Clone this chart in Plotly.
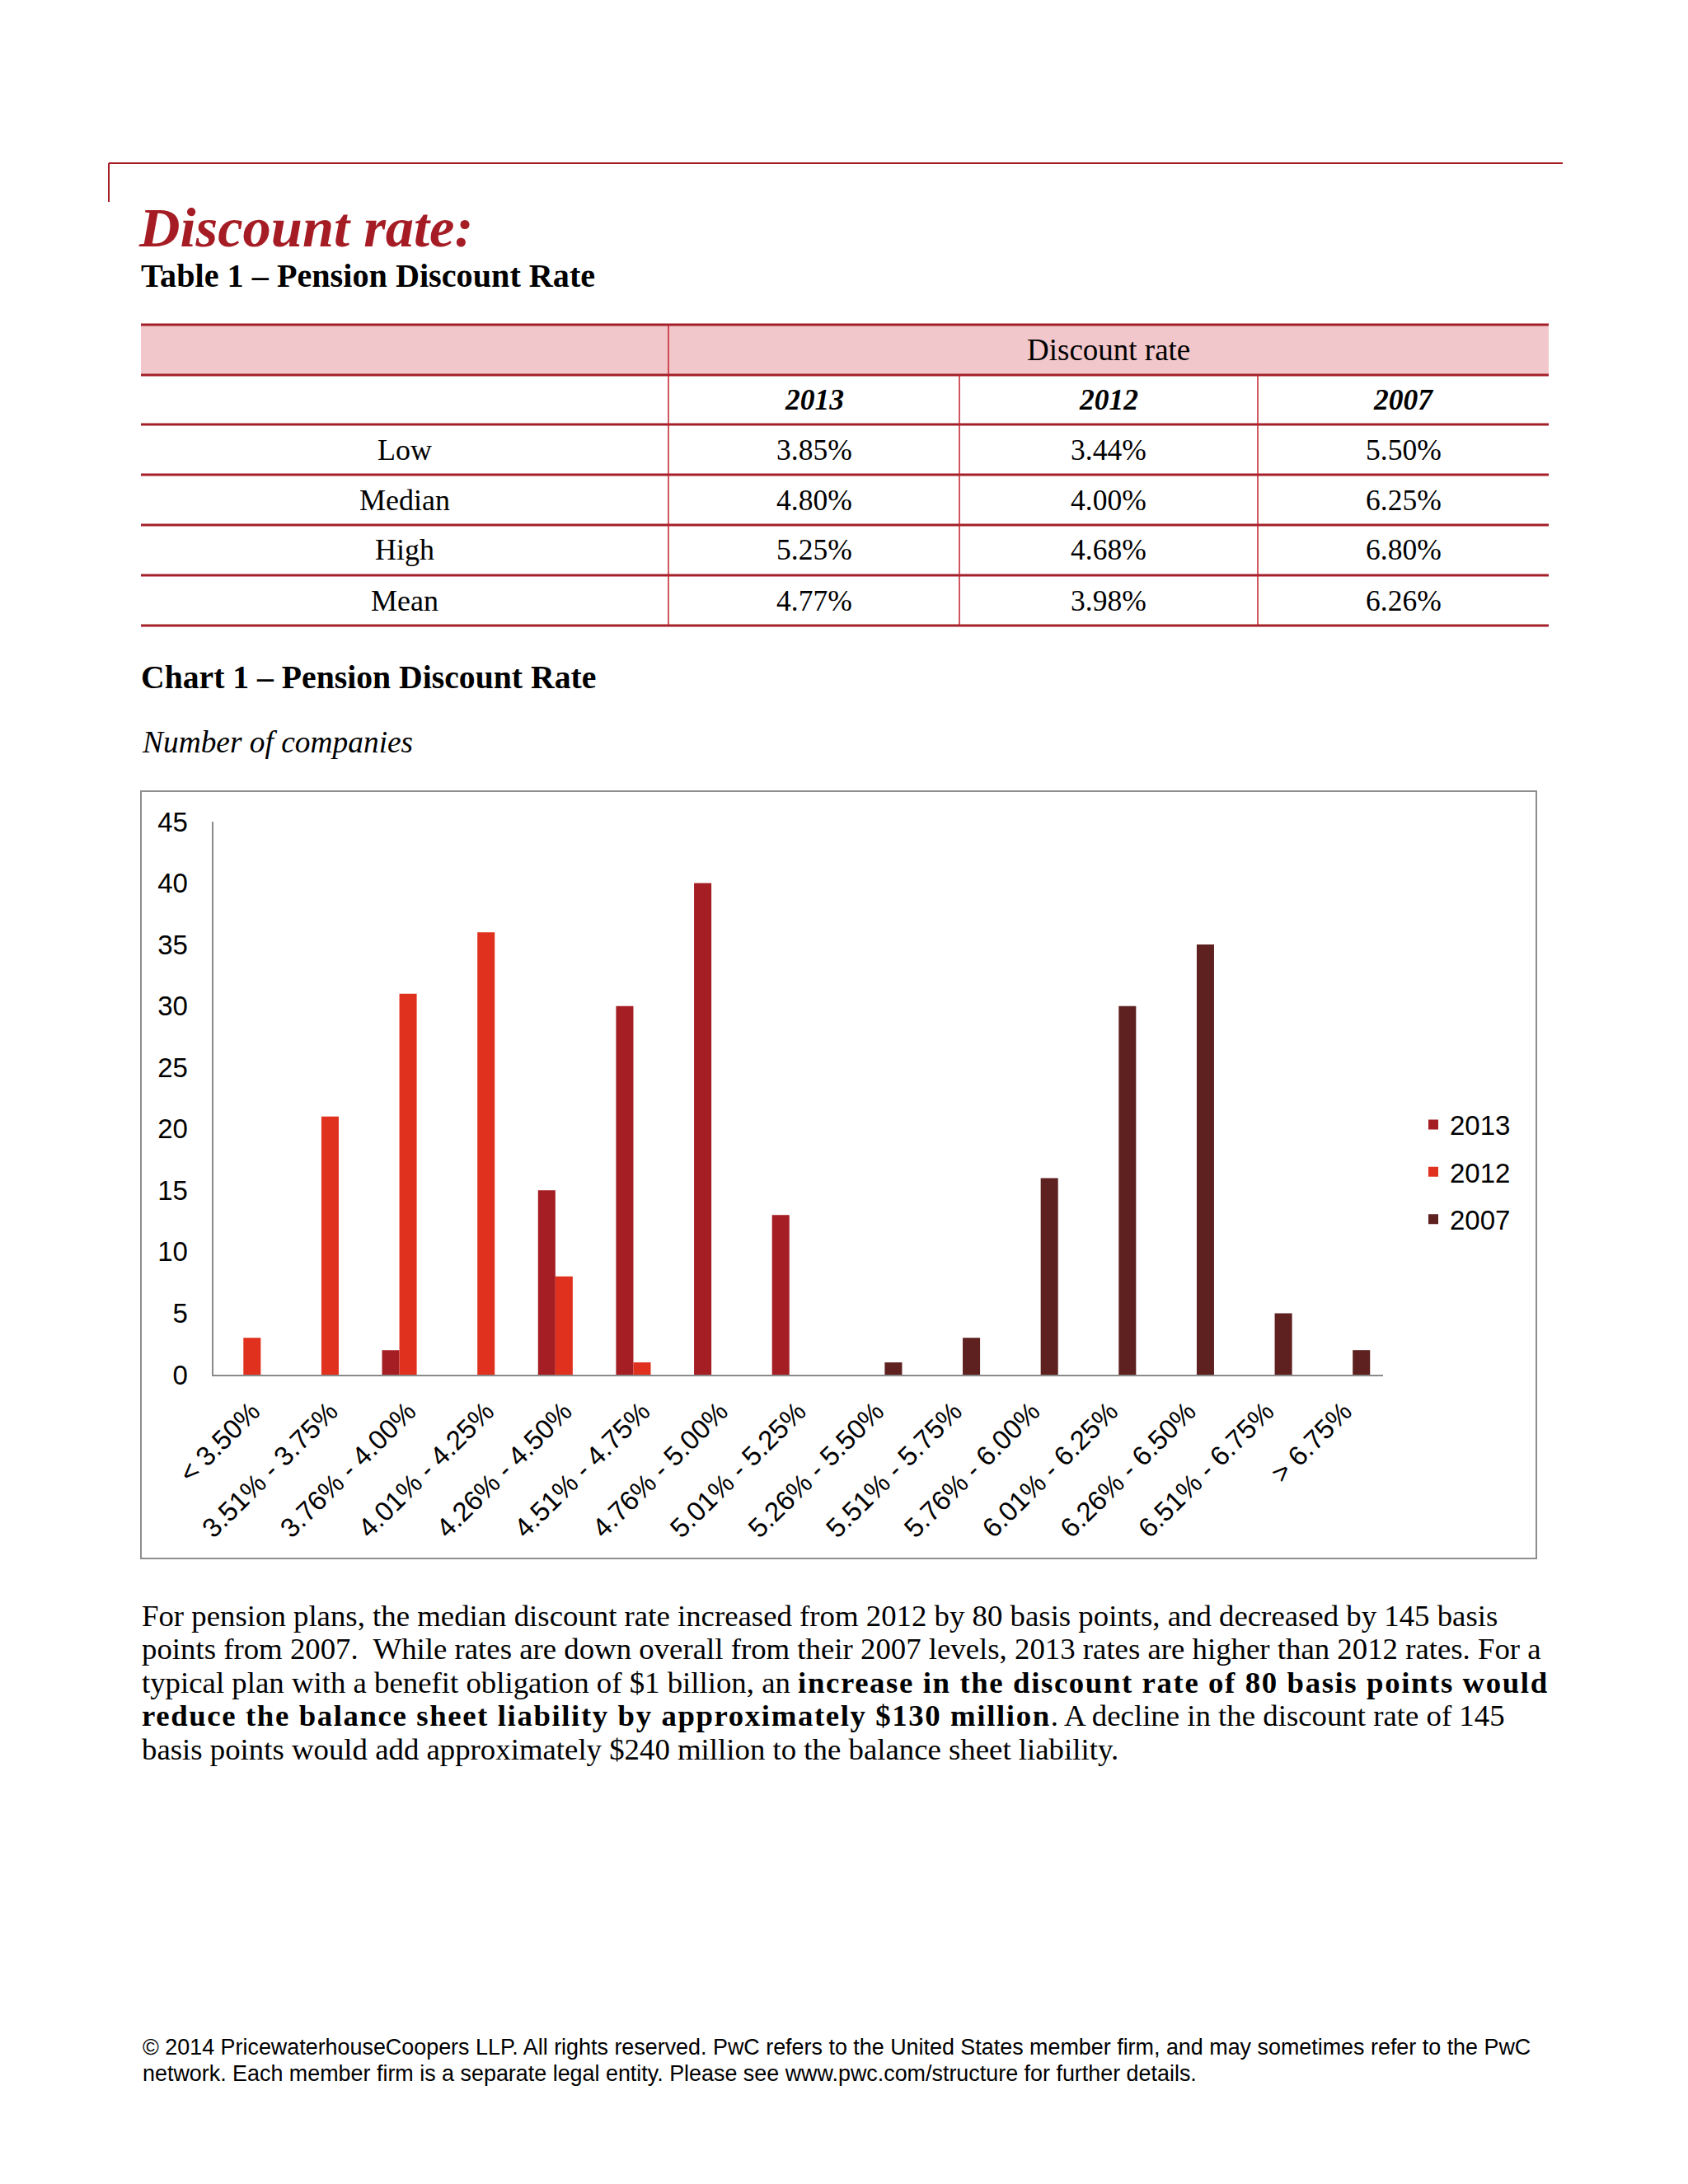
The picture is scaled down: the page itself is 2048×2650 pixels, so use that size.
import plotly.graph_objects as go

W, H = 2048, 2650
OFF = 8  # default page body margin

# ---------------- data ----------------
categories = ["< 3.50%", "3.51% - 3.75%", "3.76% - 4.00%", "4.01% - 4.25%", "4.26% - 4.50%",
              "4.51% - 4.75%", "4.76% - 5.00%", "5.01% - 5.25%", "5.26% - 5.50%", "5.51% - 5.75%",
              "5.76% - 6.00%", "6.01% - 6.25%", "6.26% - 6.50%", "6.51% - 6.75%", "> 6.75%"]
values_2013 = [0, 0, 2, 0, 15, 30, 40, 13, 0, 0, 0, 0, 0, 0, 0]
values_2012 = [3, 21, 31, 36, 8, 1, 0, 0, 0, 0, 0, 0, 0, 0, 0]
values_2007 = [0, 0, 0, 0, 0, 0, 0, 0, 1, 3, 16, 30, 35, 5, 2]
series_names = ["2013", "2012", "2007"]
series_colors = ["#A41E23", "#E0301E", "#5E2120"]

table_rows = ["Low", "Median", "High", "Mean"]
table_2013 = ["3.85%", "4.80%", "5.25%", "4.77%"]
table_2012 = ["3.44%", "4.00%", "4.68%", "3.98%"]
table_2007 = ["5.50%", "6.25%", "6.80%", "6.26%"]
table_years = ["2013", "2012", "2007"]

BOLD_OPEN = '<b><span style="letter-spacing:1.6px">'
BOLD_CLOSE = '</span></b>'
paragraph_lines = [
    "For pension plans, the median discount rate increased from 2012 by 80 basis points, and decreased by 145 basis",
    "points from 2007.  While rates are down overall from their 2007 levels, 2013 rates are higher than 2012 rates. For a",
    "typical plan with a benefit obligation of $1 billion, an " + BOLD_OPEN
    + "increase in the discount rate of 80 basis points would" + BOLD_CLOSE,
    BOLD_OPEN + "reduce the balance sheet liability by approximately $130 million" + BOLD_CLOSE
    + ". A decline in the discount rate of 145",
    "basis points would add approximately $240 million to the balance sheet liability.",
]
footer_lines = [
    "© 2014 PricewaterhouseCoopers LLP. All rights reserved. PwC refers to the United States member firm, and may sometimes refer to the PwC",
    "network. Each member firm is a separate legal entity. Please see www.pwc.com/structure for further details.",
]

SERIF = "Liberation Serif"
SANS = "Liberation Sans, Arial"
DARKRED = "#A51C24"


def px(x):
    return (x - OFF) / W


def py(y):
    return 1 - (y - OFF) / H


fig = go.Figure()
for name, vals, col in zip(series_names, [values_2013, values_2012, values_2007], series_colors):
    fig.add_bar(x=categories, y=vals, name=name, marker_color=col, marker_line_width=0,
                legendgroup=name)

annotations = []
shapes = []


def text(x, y, s, size, anchor="left", color="black", family=SERIF):
    annotations.append(dict(x=px(x), y=py(y), xref="paper", yref="paper", text=s, showarrow=False,
                            xanchor=anchor, yanchor="middle",
                            font=dict(size=size, color=color, family=family)))


def line(x0, y0, x1, y1, color, width):
    shapes.append(dict(type="line", xref="paper", yref="paper", x0=px(x0), y0=py(y0), x1=px(x1), y1=py(y1),
                       line=dict(color=color, width=width)))


# header rule
line(132, 198, 1896, 198, DARKRED, 2)
line(132, 198, 132, 245, DARKRED, 2)

text(166, 276, "<b><i>Discount rate:</i></b>", 68.5, color=DARKRED)
text(169, 334, "<b>Table 1 – Pension Discount Rate</b>", 40.2)

# table
TX0, TX1 = 171, 1879
col_x = [811, 1164, 1526]
row_y = [394, 455, 515, 576, 637, 698, 759]
shapes.append(dict(type="rect", xref="paper", yref="paper", x0=px(TX0), x1=px(TX1), y0=py(row_y[1]), y1=py(row_y[0]),
                   fillcolor="#F2C7CB", line=dict(width=0), layer="below"))
for yy in row_y:
    line(TX0, yy, TX1, yy, "#A3202A", 3)
line(col_x[0], row_y[0], col_x[0], row_y[-1], "#C0202C", 1.5)
for cx in col_x[1:]:
    line(cx, row_y[1], cx, row_y[-1], "#C0202C", 1.5)

TS = 35.5
col_centers = [(TX0 + col_x[0]) / 2, (col_x[0] + col_x[1]) / 2, (col_x[1] + col_x[2]) / 2, (col_x[2] + TX1) / 2]
text((col_x[0] + TX1) / 2, (row_y[0] + row_y[1]) / 2, "Discount rate", 37, anchor="center")
for i, yr in enumerate(table_years):
    text(col_centers[i + 1], (row_y[1] + row_y[2]) / 2, "<b><i>" + yr + "</i></b>", TS, anchor="center")
for r, lab in enumerate(table_rows):
    yc = (row_y[r + 2] + row_y[r + 3]) / 2
    text(col_centers[0], yc, lab, 36, anchor="center")
    text(col_centers[1], yc, table_2013[r], TS, anchor="center")
    text(col_centers[2], yc, table_2012[r], TS, anchor="center")
    text(col_centers[3], yc, table_2007[r], TS, anchor="center")

text(169, 822, "<b>Chart 1 – Pension Discount Rate</b>", 39.7)
text(170, 901, "<i>Number of companies</i>", 37.4)

# chart frame
shapes.append(dict(type="rect", xref="paper", yref="paper", x0=px(171), x1=px(1864), y0=py(1891), y1=py(960),
                   line=dict(color="#8E8E8E", width=2), fillcolor="rgba(0,0,0,0)"))

# paragraph
for i, s in enumerate(paragraph_lines):
    text(170, 1960 + i * 40.6, s, 36.8)

for i, s in enumerate(footer_lines):
    text(171, 2484 + i * 32, s, 26.9, family=SANS)

fig.update_layout(
    width=W, height=H,
    margin=dict(l=0, r=0, t=0, b=0, autoexpand=False),
    paper_bgcolor="white", plot_bgcolor="white",
    barmode="group", bargap=0.333, bargroupgap=0,
    showlegend=True,
    legend=dict(x=px(1719), y=py(1422), xanchor="left", yanchor="middle",
                font=dict(family=SANS, size=33, color="black"),
                traceorder="grouped", tracegroupgap=11.5, bgcolor="rgba(0,0,0,0)"),
    xaxis=dict(domain=[px(258.5), px(1678)], showline=True, linecolor="#8A8A8A", linewidth=2,
               ticks="", tickangle=-45, tickfont=dict(family=SANS, size=33, color="black"),
               showgrid=False, zeroline=False, ticklabelstandoff=10, automargin=False),
    yaxis=dict(domain=[py(1668), py(997)], range=[0, 45], dtick=5, showline=True, linecolor="#8A8A8A",
               linewidth=2, ticks="", tickfont=dict(family=SANS, size=33, color="black"),
               showgrid=False, zeroline=False, ticklabelstandoff=22, automargin=False),
    annotations=annotations,
    shapes=shapes,
)

fig.write_html("out.html")
